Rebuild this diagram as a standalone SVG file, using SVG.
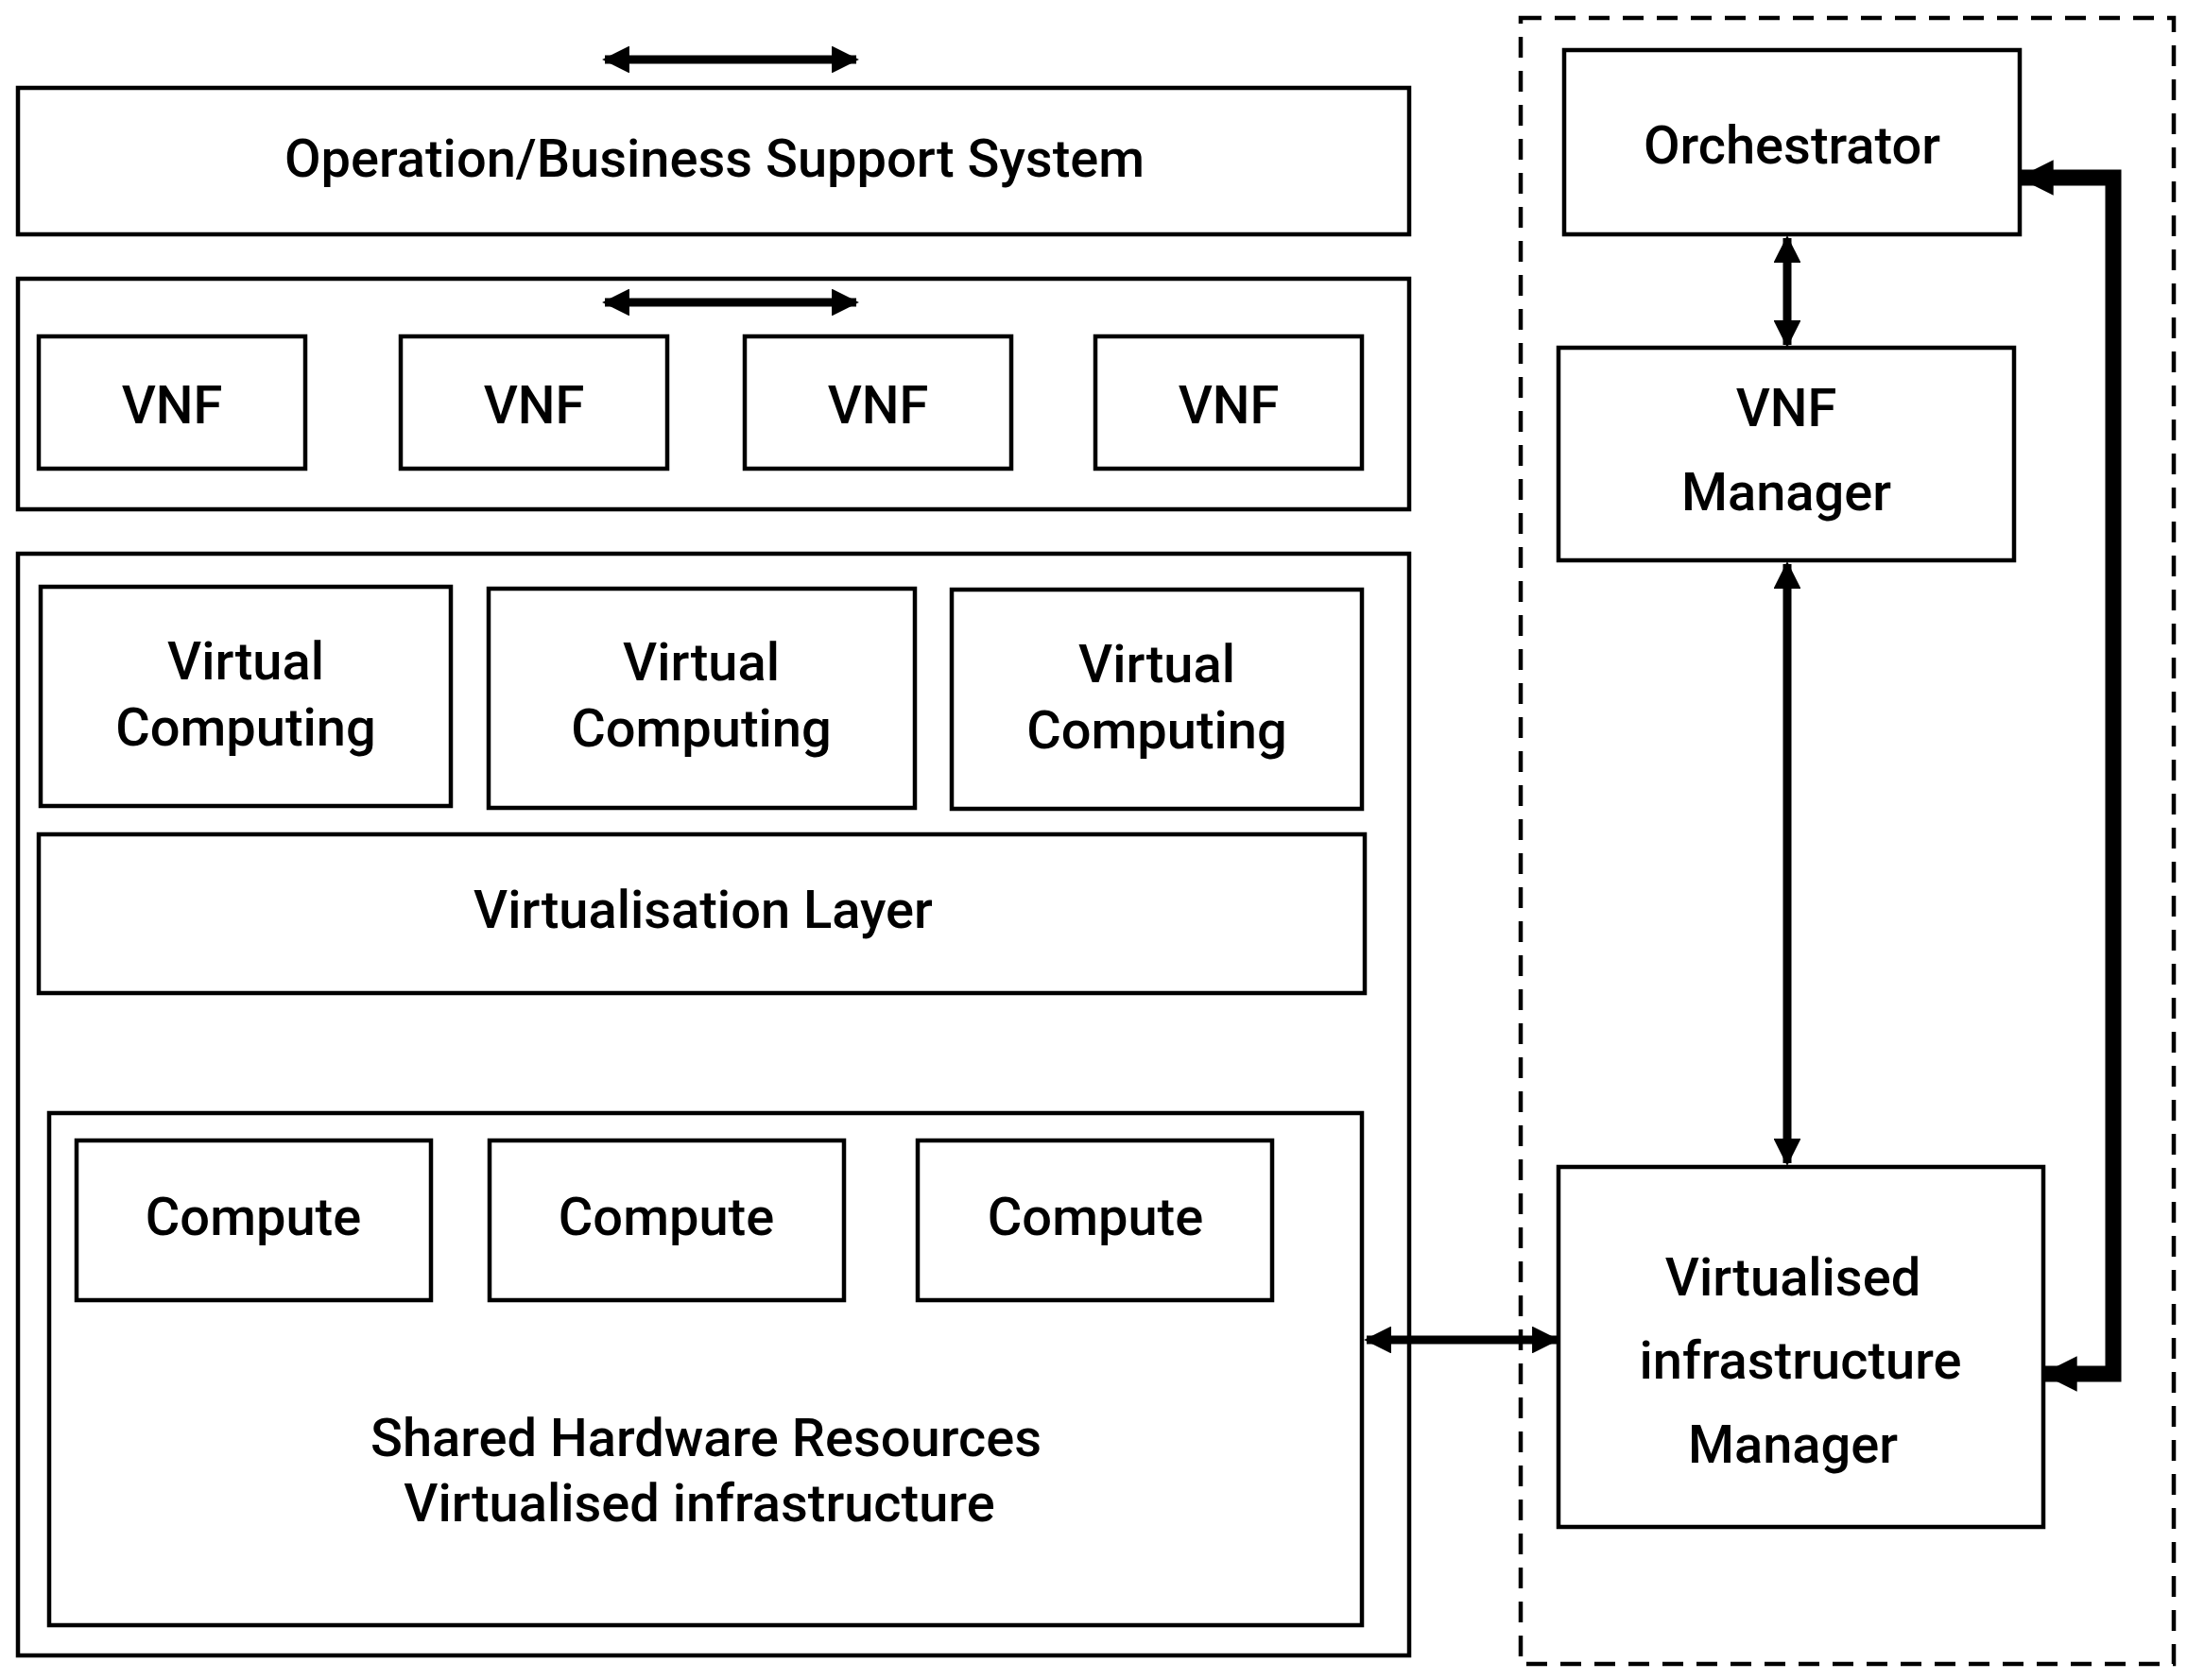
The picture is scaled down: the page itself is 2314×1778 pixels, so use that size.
<svg xmlns="http://www.w3.org/2000/svg" width="2314" height="1778" viewBox="0 0 2314 1778">
<style>
.b{fill:#fff;stroke:#000;stroke-width:4.5}
.t{font-family:Roboto,"Liberation Sans",sans-serif;font-size:56px;font-weight:500;text-anchor:middle;fill:#000}
.c{stroke:#000;stroke-width:9;fill:none}
</style>
<defs>
<marker id="a" viewBox="0 0 10 10" refX="9" refY="5" markerWidth="3.2" markerHeight="3.2" orient="auto-start-reverse" markerUnits="strokeWidth"><path d="M0,0L10,5L0,10z" fill="#000"/></marker>
<marker id="a2" viewBox="0 0 10 10" refX="9" refY="5" markerWidth="2.2" markerHeight="2.8" orient="auto-start-reverse" markerUnits="strokeWidth"><path d="M0,0L10,5L0,10z" fill="#000"/></marker>
</defs>
<rect x="1609" y="19" width="691" height="1742" fill="none" stroke="#000" stroke-width="4.5" stroke-dasharray="22,14"/>
<g id="oss"><rect class="b" x="19" y="93" width="1472" height="155"/><text class="t" x="756" y="187">Operation/Business Support System</text></g>
<g id="vnf-layer"><rect class="b" x="19" y="295" width="1472" height="244"/></g>
<g id="vnf1"><rect class="b" x="41" y="356" width="282" height="140"/><text class="t" x="182" y="448">VNF</text></g>
<g id="vnf2"><rect class="b" x="424" y="356" width="282" height="140"/><text class="t" x="565" y="448">VNF</text></g>
<g id="vnf3"><rect class="b" x="788" y="356" width="282" height="140"/><text class="t" x="929" y="448">VNF</text></g>
<g id="vnf4"><rect class="b" x="1159" y="356" width="282" height="140"/><text class="t" x="1300" y="448">VNF</text></g>
<g id="nfvi"><rect class="b" x="19" y="586" width="1472" height="1166"/></g>
<g id="vc1"><rect class="b" x="43" y="621" width="434" height="232"/><text class="t" x="260" y="719">Virtual</text><text class="t" x="260" y="789">Computing</text></g>
<g id="vc2"><rect class="b" x="517" y="623" width="451" height="232"/><text class="t" x="742" y="720">Virtual</text><text class="t" x="742" y="790">Computing</text></g>
<g id="vc3"><rect class="b" x="1007" y="624" width="434" height="232"/><text class="t" x="1224" y="722">Virtual</text><text class="t" x="1224" y="792">Computing</text></g>
<g id="vlayer"><rect class="b" x="41" y="883" width="1403" height="168"/><text class="t" x="744" y="982">Virtualisation Layer</text></g>
<g id="hw"><rect class="b" x="52" y="1178" width="1389" height="542"/><text class="t" x="747" y="1541">Shared Hardware Resources</text><text class="t" x="740" y="1610">Virtualised infrastructure</text></g>
<g id="cp1"><rect class="b" x="81" y="1207" width="375" height="169"/><text class="t" x="268" y="1307">Compute</text></g>
<g id="cp2"><rect class="b" x="518" y="1207" width="375" height="169"/><text class="t" x="705" y="1307">Compute</text></g>
<g id="cp3"><rect class="b" x="971" y="1207" width="375" height="169"/><text class="t" x="1159" y="1307">Compute</text></g>
<g id="orch"><rect class="b" x="1655" y="53" width="482" height="195"/><text class="t" x="1896" y="173">Orchestrator</text></g>
<g id="vnfm"><rect class="b" x="1649" y="368" width="482" height="225"/><text class="t" x="1890" y="451">VNF</text><text class="t" x="1890" y="540">Manager</text></g>
<g id="vim"><rect class="b" x="1649" y="1235" width="513" height="381"/><text class="t" x="1897" y="1371">Virtualised</text><text class="t" x="1905" y="1459">infrastructure</text><text class="t" x="1897" y="1548">Manager</text></g>
<g id="connectors">
<line class="c" x1="640" y1="63" x2="906" y2="63" marker-start="url(#a)" marker-end="url(#a)"/>
<line class="c" x1="640" y1="320" x2="906" y2="320" marker-start="url(#a)" marker-end="url(#a)"/>
<line class="c" x1="1891" y1="252" x2="1891" y2="365" marker-start="url(#a)" marker-end="url(#a)"/>
<line class="c" x1="1891" y1="597" x2="1891" y2="1231" marker-start="url(#a)" marker-end="url(#a)"/>
<line class="c" x1="1446" y1="1418" x2="1647" y2="1418" marker-start="url(#a)" marker-end="url(#a)"/>
<polyline stroke="#000" stroke-width="17" fill="none" points="2164,1454 2236,1454 2236,188 2139,188" marker-start="url(#a2)" marker-end="url(#a2)"/>
</g>
</svg>
